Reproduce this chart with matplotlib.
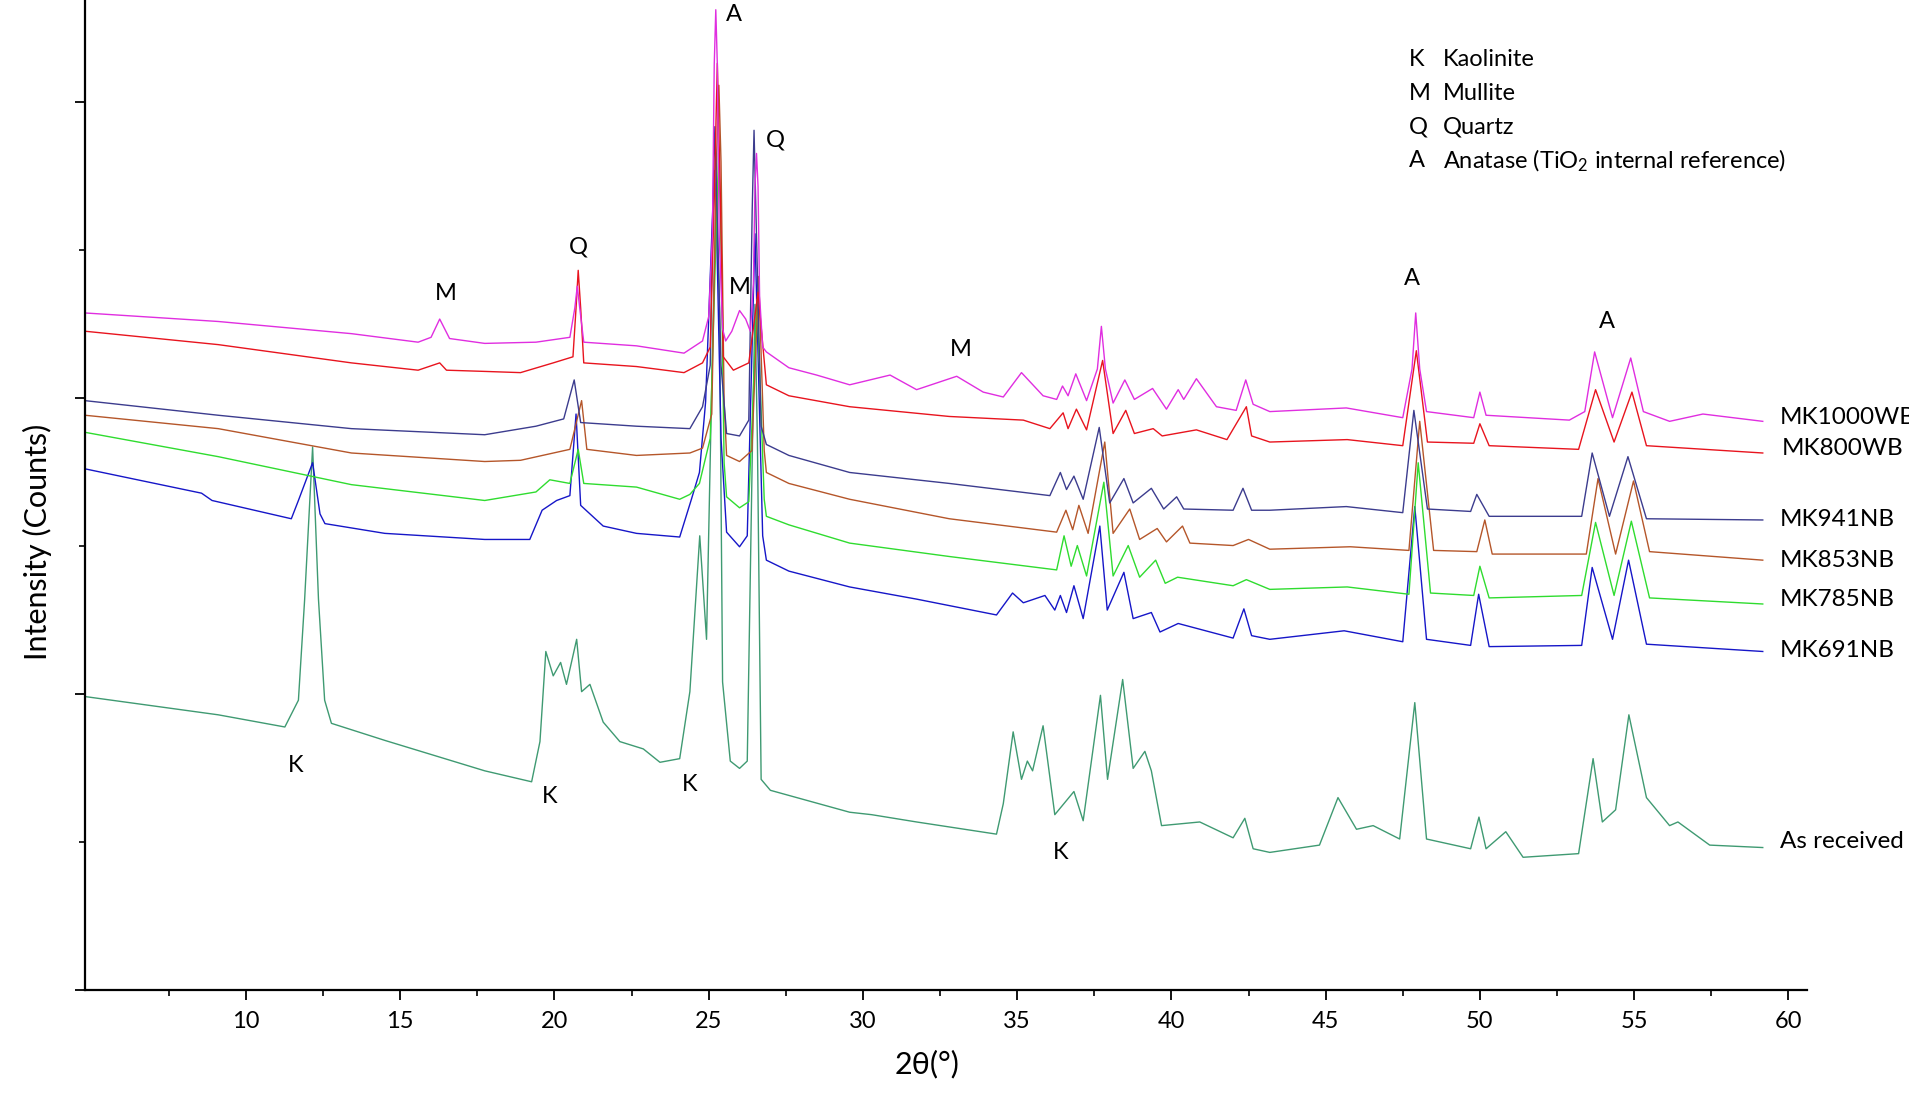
import matplotlib
matplotlib.use("Agg")
import matplotlib.pyplot as plt
from matplotlib.ticker import MultipleLocator, FixedLocator

plt.rcParams["font.family"] = ["Lato", "DejaVu Sans"]
plt.rcParams["mathtext.fontset"] = "custom"
plt.rcParams["mathtext.rm"] = "Lato"
plt.rcParams["mathtext.default"] = "regular"

# ---------------------------------------------------------------
# Data (2-theta in degrees, intensity a.u.)
# ---------------------------------------------------------------
tt_mk1000wb = [4.78, 9.1, 13.42, 15.58, 16.0, 16.28, 16.6, 17.74, 19.4, 20.5, 20.66, 20.74, 20.82, 20.95,
               22.66, 24.2, 24.8, 25.0, 25.12, 25.18, 25.23, 25.28, 25.34, 25.45, 25.55, 25.75, 26.0, 26.2,
               26.35, 26.45, 26.5, 26.55, 26.6, 26.65, 26.75, 26.87, 27.6, 28.5, 29.57, 30.88, 31.74, 33.04,
               33.9, 34.55, 35.14, 35.84, 36.28, 36.47, 36.65, 36.9, 37.25, 37.6, 37.73, 37.86, 38.11, 38.49,
               38.8, 39.39, 39.84, 40.22, 40.4, 40.81, 41.46, 42.1, 42.41, 42.65, 43.19, 45.67, 47.5, 47.8,
               47.92, 48.05, 48.27, 49.8, 50.0, 50.2, 52.9, 53.4, 53.72, 54.3, 54.89, 55.3, 56.15, 57.23, 59.17]
int_mk1000wb = [556, 549, 539, 532, 536, 551, 535, 531, 532, 536, 560, 578, 560, 532,
                529, 523, 533, 553, 620, 760, 805, 760, 620, 543, 533, 541, 558, 551,
                541, 580, 660, 687, 660, 570, 528, 524, 511, 505, 497, 505, 493, 504,
                491, 487, 507, 488, 485, 496, 488, 506, 484, 510, 545, 510, 482, 501,
                485, 494, 477, 493, 485, 502, 479, 476, 501, 481, 475, 478, 470, 510,
                556, 510, 475, 470, 491, 472, 468, 475, 524, 470, 519, 475, 467, 473, 467]

tt_mk800wb = [4.78, 9.1, 13.42, 15.58, 16.28, 16.5, 17.74, 18.9, 19.96, 20.6, 20.7, 20.77, 20.85, 20.95,
              22.66, 24.2, 24.8, 25.05, 25.18, 25.28, 25.38, 25.47, 25.8, 26.3, 26.6, 26.87, 27.6, 29.57,
              32.8, 35.2, 36.06, 36.49, 36.65, 36.92, 37.25, 37.77, 38.11, 38.52, 38.8, 39.41, 39.7, 40.81,
              41.8, 42.43, 42.6, 43.19, 45.7, 47.5, 47.94, 48.3, 49.8, 50.0, 50.3, 53.2, 53.75, 54.35,
              54.93, 55.4, 59.17]
int_mk800wb = [541, 530, 515, 509, 515, 509, 508, 507, 515, 520, 560, 591, 560, 515,
               512, 507, 515, 528, 650, 761, 650, 520, 509, 515, 573, 497, 488, 479,
               471, 468, 461, 474, 461, 477, 460, 517, 457, 476, 457, 461, 455, 460,
               452, 479, 455, 450, 452, 447, 525, 450, 449, 465, 447, 444, 493, 450,
               491, 447, 441]

tt_mk941nb = [4.78, 9.1, 13.42, 17.74, 19.4, 20.3, 20.64, 20.85, 22.66, 24.39, 24.8, 25.05, 25.14, 25.2,
              25.26, 25.4, 25.58, 26.0, 26.3, 26.41, 26.47, 26.53, 26.7, 26.87, 27.6, 29.57, 32.8, 36.06,
              36.4, 36.6, 36.84, 37.14, 37.66, 38.0, 38.46, 38.76, 39.35, 39.75, 40.17, 40.4, 42.0, 42.32,
              42.6, 43.19, 45.67, 47.5, 47.86, 48.3, 49.7, 49.9, 50.3, 53.3, 53.64, 54.2, 54.8, 55.4, 59.17]
int_mk941nb = [484, 472, 461, 456, 463, 469, 501, 466, 463, 461, 479, 513, 650, 709,
               650, 513, 457, 455, 468, 640, 706, 640, 463, 448, 439, 425, 416, 406,
               425, 411, 422, 403, 462, 400, 420, 400, 412, 395, 405, 395, 394, 412,
               394, 394, 397, 392, 476, 395, 393, 407, 389, 389, 441, 389, 438, 387, 386]

tt_mk853nb = [4.78, 9.1, 13.42, 17.74, 18.9, 20.5, 20.88, 21.05, 22.66, 24.39, 24.8, 25.1, 25.25, 25.33,
              25.4, 25.5, 25.58, 26.0, 26.4, 26.62, 26.8, 26.87, 27.6, 29.57, 32.8, 36.28, 36.58, 36.8,
              37.0, 37.3, 37.84, 38.11, 38.65, 38.97, 39.54, 39.84, 40.36, 40.6, 42.0, 42.5, 43.19, 45.8,
              47.7, 48.05, 48.5, 49.9, 50.16, 50.4, 53.45, 53.83, 54.4, 54.98, 55.5, 59.17]
int_mk853nb = [472, 461, 441, 434, 435, 444, 484, 444, 439, 441, 445, 473, 680, 743,
               680, 483, 439, 434, 443, 586, 443, 425, 416, 403, 387, 376, 394, 378,
               398, 375, 450, 375, 395, 370, 379, 368, 381, 367, 365, 370, 362, 364,
               361, 467, 361, 360, 386, 358, 358, 420, 358, 418, 360, 353]

tt_mk785nb = [4.78, 9.1, 13.42, 17.74, 19.4, 19.85, 20.5, 20.77, 20.95, 22.66, 24.06, 24.39, 24.7, 25.05,
              25.25, 25.32, 25.39, 25.5, 25.58, 26.0, 26.3, 26.57, 26.8, 26.87, 27.6, 29.57, 32.8, 36.28,
              36.52, 36.75, 36.95, 37.25, 37.81, 38.11, 38.6, 38.97, 39.49, 39.8, 40.2, 42.0, 42.43, 43.19,
              45.7, 47.7, 48.0, 48.4, 49.8, 50.0, 50.3, 53.3, 53.75, 54.35, 54.91, 55.5, 59.17]
int_mk785nb = [458, 438, 415, 402, 409, 419, 416, 444, 416, 413, 403, 407, 416, 453,
               630, 687, 630, 433, 405, 396, 401, 567, 403, 389, 382, 367, 356, 345,
               373, 348, 365, 340, 417, 340, 365, 339, 353, 334, 339, 332, 337, 329,
               331, 325, 433, 326, 324, 348, 322, 324, 384, 324, 385, 322, 317]

tt_mk691nb = [4.78, 8.56, 8.9, 11.47, 11.7, 12.16, 12.4, 12.56, 14.5, 17.74, 19.2, 19.6, 20.07, 20.5,
              20.7, 20.85, 21.58, 22.66, 24.06, 24.44, 24.7, 24.9, 25.1, 25.18, 25.26, 25.4, 25.58, 26.0,
              26.25, 26.5, 26.75, 26.87, 27.6, 29.57, 31.74, 34.33, 34.85, 35.2, 35.9, 36.22, 36.4, 36.6,
              36.84, 37.14, 37.68, 37.92, 38.46, 38.76, 39.35, 39.63, 40.22, 42.0, 42.35, 42.6, 43.19, 45.6,
              47.5, 47.89, 48.27, 49.7, 49.96, 50.3, 53.3, 53.64, 54.3, 54.82, 55.4, 59.17]
int_mk691nb = [428, 408, 402, 387, 402, 433, 391, 383, 375, 370, 370, 394, 402, 406,
               473, 398, 381, 375, 372, 403, 425, 483, 620, 673, 620, 453, 376, 364,
               373, 621, 373, 353, 344, 331, 321, 308, 326, 318, 324, 312, 324, 310,
               332, 305, 381, 312, 343, 305, 310, 294, 301, 289, 313, 291, 288, 295,
               286, 397, 288, 283, 325, 282, 283, 347, 288, 353, 284, 278]

tt_received = [4.78, 9.1, 11.26, 11.7, 11.9, 12.16, 12.35, 12.55, 12.77, 14.5, 17.74, 19.26, 19.53, 19.72,
               19.96, 20.2, 20.39, 20.72, 20.88, 21.15, 21.58, 22.12, 22.88, 23.42, 24.06, 24.39, 24.71, 24.93,
               25.15, 25.25, 25.35, 25.45, 25.7, 26.0, 26.25, 26.42, 26.5, 26.58, 26.7, 27.0, 29.57, 30.28,
               31.74, 34.33, 34.55, 34.87, 35.14, 35.33, 35.5, 35.84, 36.22, 36.84, 37.14, 37.7, 37.93, 38.42,
               38.76, 39.14, 39.35, 39.68, 40.92, 42.0, 42.38, 42.65, 43.19, 44.8, 45.4, 46.0, 46.54, 47.4,
               47.89, 48.27, 49.7, 49.97, 50.2, 50.84, 51.4, 53.2, 53.67, 53.97, 54.4, 54.83, 55.4, 56.15,
               56.42, 57.45, 59.17]
int_received = [241, 226, 216, 238, 320, 446, 321, 238, 219, 205, 180, 171, 204, 278,
                258, 269, 251, 288, 245, 251, 220, 204, 198, 187, 190, 245, 373, 288,
                560, 663, 560, 253, 188, 182, 188, 450, 563, 450, 173, 164, 146, 144,
                138, 128, 153, 212, 173, 188, 180, 217, 144, 163, 139, 242, 173, 255,
                182, 196, 180, 135, 138, 125, 141, 116, 113, 119, 158, 132, 135, 124,
                236, 124, 116, 142, 116, 130, 109, 112, 190, 138, 148, 226, 158, 135,
                138, 119, 117]

sample_names = ["As received", "MK691NB", "MK785NB", "MK853NB", "MK941NB", "MK800WB", "MK1000WB"]
sample_colors = ["#3f9a72", "#1616c8", "#2fdc2f", "#b5562a", "#3c3c8e", "#e8141e", "#e02ee0"]
two_theta = [tt_received, tt_mk691nb, tt_mk785nb, tt_mk853nb, tt_mk941nb, tt_mk800wb, tt_mk1000wb]
intensity = [int_received, int_mk691nb, int_mk785nb, int_mk853nb, int_mk941nb, int_mk800wb, int_mk1000wb]

# label positions (x, y) for the sample names at the right end of each trace
name_x = [59.72, 59.72, 59.72, 59.72, 59.72, 59.8, 59.72]
name_y = [122, 279, 321, 353, 386, 445, 470]

# phase markers above peaks
peak_letters = ["A", "Q", "Q", "M", "M", "M", "A", "A", "K", "K", "K", "K"]
peak_x = [25.82, 27.17, 20.77, 16.47, 26.02, 33.17, 47.8, 54.12, 11.62, 19.83, 24.4, 36.4]
peak_y = [801, 698, 610, 572, 577, 526, 584, 549, 184, 159, 169, 113]

key_letters = ["K", "M", "Q", "A"]
key_names = ["Kaolinite", "Mullite", "Quartz", "Anatase (TiO$_2$ internal reference)"]
key_y = [764, 736, 709, 681]

major_ticks = [10, 15, 20, 25, 30, 35, 40, 45, 50, 55, 60]
minor_ticks = [7.5, 12.5, 17.5, 22.5, 27.5, 32.5, 37.5, 42.5, 47.5, 52.5, 57.5]

# ---------------------------------------------------------------
# Plot
# ---------------------------------------------------------------
fig = plt.figure(figsize=(19.09, 10.96), dpi=100)
ax = fig.add_axes([0.0445, 0.0967, 0.902, 0.9033])

for tt, inten, col in zip(two_theta, intensity, sample_colors):
    ax.plot(tt, inten, color=col, lw=1.0)

for name, x, y in zip(sample_names, name_x, name_y):
    ax.text(x, y, name, fontsize=17.5, ha="left", va="center", clip_on=False)

for letter, x, y in zip(peak_letters, peak_x, peak_y):
    ax.text(x, y, letter, fontsize=17, ha="center", va="center")

for letter, name, y in zip(key_letters, key_names, key_y):
    ax.text(47.69, y, letter, fontsize=17, ha="left", va="center")
    ax.text(48.79, y, name, fontsize=17, ha="left", va="center")

ax.set_xlim(4.78, 60.6)
ax.set_ylim(0, 813)

ax.spines["top"].set_visible(False)
ax.spines["right"].set_visible(False)
ax.spines["left"].set_linewidth(1.6)
ax.spines["bottom"].set_linewidth(1.6)

ax.xaxis.set_major_locator(FixedLocator(major_ticks))
ax.xaxis.set_minor_locator(FixedLocator(minor_ticks))
ax.yaxis.set_major_locator(MultipleLocator(243))
ax.yaxis.set_minor_locator(MultipleLocator(121.5))
ax.tick_params(axis="both", which="major", direction="out", length=7, width=1.3, labelsize=17, pad=8)
ax.tick_params(axis="both", which="minor", direction="out", length=4, width=1.2)
ax.tick_params(axis="y", which="both", labelleft=False)

ax.set_xlabel("2θ(°)", fontsize=22)
ax.xaxis.set_label_coords(0.489, -0.06)
ax.set_ylabel("Intensity (Counts)", fontsize=22)
ax.yaxis.set_label_coords(-0.019, 0.4526)

fig.savefig("out.png", dpi=100)
